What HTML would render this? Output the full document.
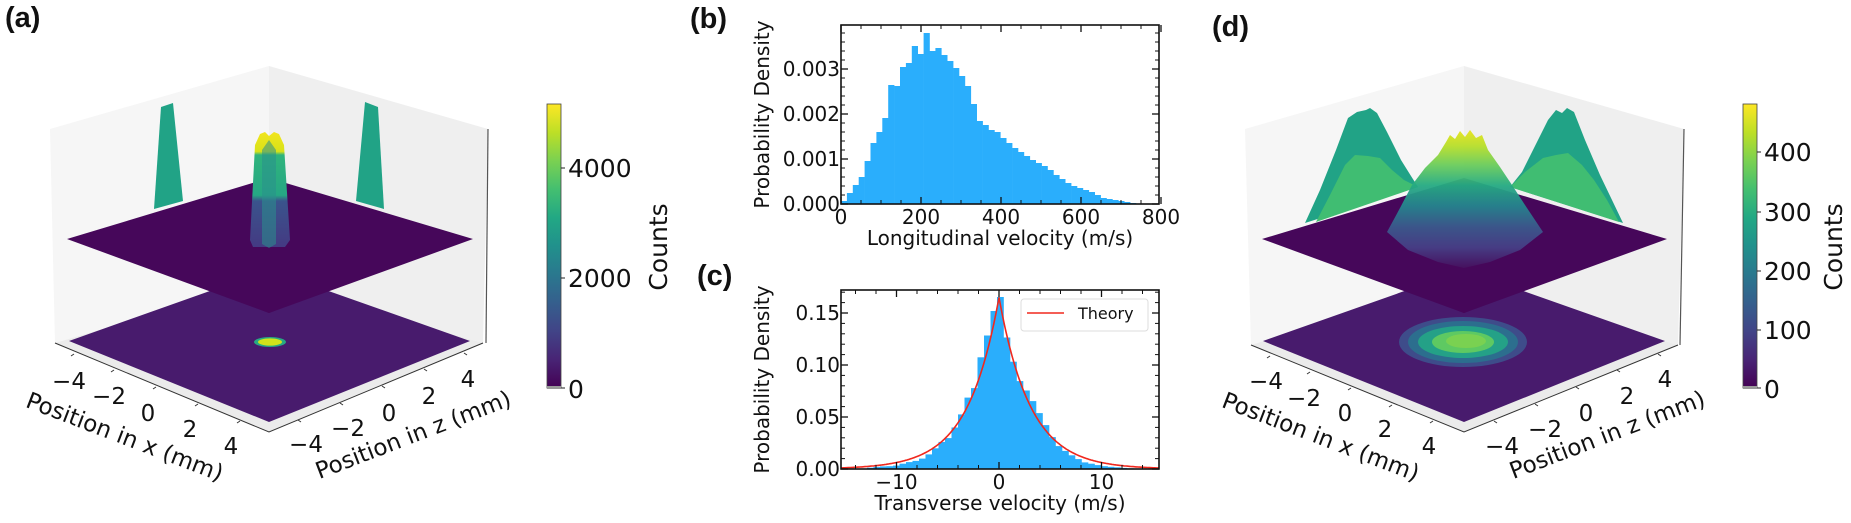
<!DOCTYPE html>
<html><head><meta charset="utf-8">
<style>
html,body{margin:0;padding:0;background:#fff;}
svg{display:block;}
text{font-family:"DejaVu Sans","Liberation Sans",sans-serif;fill:#111;}
.lbl{font-family:"Liberation Sans",sans-serif;font-weight:bold;font-size:29px;}
</style></head>
<body>
<svg id="s" width="1851" height="523" viewBox="0 0 1851 523" xmlns="http://www.w3.org/2000/svg">
<defs>
<linearGradient id="vir" x1="0" y1="1" x2="0" y2="0">
<stop offset="0" stop-color="#440154"/><stop offset="0.1" stop-color="#482475"/><stop offset="0.2" stop-color="#414487"/><stop offset="0.3" stop-color="#355f8d"/><stop offset="0.4" stop-color="#2a788e"/><stop offset="0.5" stop-color="#21918c"/><stop offset="0.6" stop-color="#22a884"/><stop offset="0.7" stop-color="#44bf70"/><stop offset="0.8" stop-color="#7ad151"/><stop offset="0.9" stop-color="#bddf26"/><stop offset="1" stop-color="#fde725"/>
</linearGradient>
<linearGradient id="spk" x1="0" y1="0" x2="0" y2="1">
<stop offset="0" stop-color="#f2e51d"/><stop offset="0.17" stop-color="#d8e219"/><stop offset="0.2" stop-color="#2fb47c"/><stop offset="0.55" stop-color="#26a784"/><stop offset="0.6" stop-color="#3a548c"/><stop offset="1" stop-color="#443a83"/>
</linearGradient>
<linearGradient id="mtn" x1="0" y1="0" x2="0" y2="1">
<stop offset="0" stop-color="#e7e41a"/><stop offset="0.12" stop-color="#b5de2b"/><stop offset="0.25" stop-color="#6ccd5a"/><stop offset="0.4" stop-color="#25ab82"/><stop offset="0.55" stop-color="#25858e"/><stop offset="0.7" stop-color="#3a5a8c"/><stop offset="0.85" stop-color="#463f86"/><stop offset="1" stop-color="#46115f"/>
</linearGradient>
</defs>

<!-- ============ PANEL A ============ -->
<text class="lbl" x="5" y="27">(a)</text>
<polygon points="50,129 269,66 269,280 55,343" fill="#f6f6f6"/>
<polygon points="269,66 488,129 483,343 269,280" fill="#efefef"/>
<line x1="488" y1="129" x2="486" y2="343" stroke="#555" stroke-width="1.2"/>
<polygon points="55,343 269,280 483,343 269,432" fill="#ebebeb"/>
<polyline points="55,343 269,432 483,343" fill="none" stroke="#333" stroke-width="1"/>
<polygon points="69,341 269,270 470,341 269,422" fill="#481b6d"/>
<polygon points="215,291 269,270 322,291 269,313" fill="#440154"/>
<!-- projections -->
<polygon points="161,107 173,103 183,201 154,209" fill="#21a386"/>
<polygon points="365,102 378,107 384,209 356,201" fill="#21a386"/>
<polygon points="67,239 269,178 473,239 269,313" fill="#46075a"/>
<polygon points="250,240 255,145 260,134 265,132 269,136 274,132 279,134 284,145 290,240 285,247 269,247 253,247" fill="url(#spk)"/>
<polygon points="262,150 269,140 276,150 276,244 269,248 262,244" fill="#2a8f8c" opacity="0.55"/>
<ellipse cx="270" cy="342" rx="16" ry="5" fill="#27a983"/>
<ellipse cx="270" cy="342" rx="12" ry="3.6" fill="#d2e21b"/>
<!-- ticks a -->
<g stroke="#333" stroke-width="1">
<line x1="74" y1="354" x2="71" y2="356"/><line x1="114" y1="370" x2="111" y2="372"/><line x1="156" y1="387" x2="153" y2="389"/><line x1="198" y1="404" x2="195" y2="406"/><line x1="240" y1="421" x2="237" y2="423"/>
<line x1="298" y1="420" x2="301" y2="422"/><line x1="340" y1="403" x2="343" y2="405"/><line x1="382" y1="386" x2="385" y2="388"/><line x1="424" y1="369" x2="427" y2="371"/><line x1="464" y1="353" x2="467" y2="355"/>
</g>
<g font-size="23" text-anchor="middle">
<text x="69" y="389">−4</text><text x="109" y="404">−2</text><text x="148" y="421">0</text><text x="190" y="437">2</text><text x="231" y="454">4</text>
<text x="306" y="452">−4</text><text x="348" y="436">−2</text><text x="389" y="421">0</text><text x="429" y="404">2</text><text x="468" y="387">4</text>
<text transform="translate(122,444) rotate(21)" font-size="23">Position in x (mm)</text>
<text transform="translate(416,442) rotate(-21)" font-size="23">Position in z (mm)</text>
</g>
<!-- colorbar a -->
<rect x="547" y="104" width="14" height="284" fill="url(#vir)" stroke="#444" stroke-width="0.8"/>
<rect x="547" y="386" width="14" height="3" fill="#999"/>
<g stroke="#222" stroke-width="1"><line x1="561" y1="168" x2="565" y2="168"/><line x1="561" y1="278" x2="565" y2="278"/><line x1="561" y1="388" x2="565" y2="388"/></g>
<g font-size="25"><text x="568" y="177">4000</text><text x="568" y="287">2000</text><text x="568" y="398">0</text></g>
<text transform="translate(667,247) rotate(-90)" font-size="25" text-anchor="middle">Counts</text>

<!-- ============ PANEL B / C ============ -->
<text class="lbl" x="690" y="28">(b)</text>
<text class="lbl" x="697" y="285">(c)</text>
<g id="hb"></g>
<g id="hc"></g>

<!-- ============ PANEL D ============ -->
<text class="lbl" x="1212" y="36">(d)</text>
<polygon points="1245,129 1464,66 1464,280 1251,345" fill="#f6f6f6"/>
<polygon points="1464,66 1684,129 1678,345 1464,280" fill="#efefef"/>
<line x1="1684" y1="129" x2="1680" y2="345" stroke="#555" stroke-width="1.2"/>
<polygon points="1251,345 1464,280 1678,345 1464,432" fill="#ebebeb"/>
<polyline points="1251,345 1464,432 1678,345" fill="none" stroke="#333" stroke-width="1"/>
<polygon points="1263,341 1464,270 1665,341 1464,422" fill="#481b6d"/>
<polygon points="1410,291 1464,270 1518,291 1464,313" fill="#440154"/>
<!-- projections d -->
<polygon points="1305,223 1320,190 1336,150 1348,118 1357,112 1366,110 1370,108 1377,113 1387,132 1401,160 1411,176 1418,187" fill="#21a386"/>
<polygon points="1316,222 1330,195 1345,165 1355,155 1368,156 1380,158 1392,170 1404,180 1418,187" fill="#40bd72"/>
<polygon points="1510,187 1522,172 1534,148 1548,120 1556,110 1562,113 1567,108 1574,112 1585,140 1600,175 1612,200 1623,223" fill="#21a386"/>
<polygon points="1510,187 1525,172 1543,158 1556,155 1568,153 1582,165 1594,180 1607,200 1619,222" fill="#40bd72"/>
<polygon points="1262,239 1464,178 1667,239 1464,313" fill="#46075a"/>
<polygon points="1387,232 1400,208 1412,185 1425,168 1438,155 1446,142 1450,135 1455,139 1460,131 1465,137 1470,130 1476,138 1482,135 1488,150 1500,167 1512,185 1525,205 1535,220 1543,232 1520,250 1490,262 1464,268 1438,262 1408,250" fill="url(#mtn)" opacity="0.95"/>
<ellipse cx="1463" cy="342" rx="64" ry="25" fill="#3e4c8a"/>
<ellipse cx="1463" cy="342" rx="55" ry="21" fill="#2c6e8e"/>
<ellipse cx="1463" cy="342" rx="45" ry="16" fill="#24a187"/>
<ellipse cx="1463" cy="342" rx="31" ry="11" fill="#5ec962"/>
<ellipse cx="1466" cy="341" rx="20" ry="7" fill="#7ad151"/>
<g stroke="#333" stroke-width="1">
<line x1="1270" y1="356" x2="1267" y2="358"/><line x1="1310" y1="372" x2="1307" y2="374"/><line x1="1351" y1="388" x2="1348" y2="390"/><line x1="1392" y1="405" x2="1389" y2="407"/><line x1="1433" y1="421" x2="1430" y2="423"/>
<line x1="1494" y1="421" x2="1497" y2="423"/><line x1="1535" y1="404" x2="1538" y2="406"/><line x1="1576" y1="387" x2="1579" y2="389"/><line x1="1617" y1="370" x2="1620" y2="372"/><line x1="1658" y1="354" x2="1661" y2="356"/>
</g>
<g font-size="23" text-anchor="middle">
<text x="1266" y="389">−4</text><text x="1304" y="406">−2</text><text x="1345" y="421">0</text><text x="1385" y="437">2</text><text x="1429" y="454">4</text>
<text x="1502" y="454">−4</text><text x="1545" y="437">−2</text><text x="1586" y="421">0</text><text x="1627" y="404">2</text><text x="1665" y="387">4</text>
<text transform="translate(1318,444) rotate(21)">Position in x (mm)</text>
<text transform="translate(1610,442) rotate(-21)">Position in z (mm)</text>
</g>
<rect x="1743" y="104" width="14" height="284" fill="url(#vir)" stroke="#444" stroke-width="0.8"/>
<rect x="1743" y="386" width="14" height="3" fill="#999"/>
<g stroke="#222" stroke-width="1"><line x1="1757" y1="152" x2="1761" y2="152"/><line x1="1757" y1="212" x2="1761" y2="212"/><line x1="1757" y1="271" x2="1761" y2="271"/><line x1="1757" y1="330" x2="1761" y2="330"/><line x1="1757" y1="388" x2="1761" y2="388"/></g>
<g font-size="25"><text x="1764" y="161">400</text><text x="1764" y="221">300</text><text x="1764" y="280">200</text><text x="1764" y="339">100</text><text x="1764" y="398">0</text></g>
<text transform="translate(1842,247) rotate(-90)" font-size="25" text-anchor="middle">Counts</text>
</svg>
<script>
(function(){
var L=841,R=1159;
function axes(top,bot,xt,xmin,yt,ymin,xl,yl){
  var s='';
  s+='<rect x="'+L+'" y="'+top+'" width="'+(R-L)+'" height="'+(bot-top)+'" fill="none" stroke="#111" stroke-width="1.6"/>';
  xmin.forEach(function(x){s+='<line x1="'+x+'" y1="'+bot+'" x2="'+x+'" y2="'+(bot-4)+'" stroke="#111"/><line x1="'+x+'" y1="'+top+'" x2="'+x+'" y2="'+(top+4)+'" stroke="#111"/>';});
  xt.forEach(function(t){s+='<line x1="'+t[0]+'" y1="'+bot+'" x2="'+t[0]+'" y2="'+(bot-7)+'" stroke="#111" stroke-width="1.3"/><line x1="'+t[0]+'" y1="'+top+'" x2="'+t[0]+'" y2="'+(top+7)+'" stroke="#111" stroke-width="1.3"/><text x="'+t[0]+'" y="'+(bot+20)+'" font-size="20" text-anchor="middle">'+t[1]+'</text>';});
  ymin.forEach(function(y){s+='<line x1="'+L+'" y1="'+y+'" x2="'+(L+4)+'" y2="'+y+'" stroke="#111"/><line x1="'+R+'" y1="'+y+'" x2="'+(R-4)+'" y2="'+y+'" stroke="#111"/>';});
  yt.forEach(function(t){s+='<line x1="'+L+'" y1="'+t[0]+'" x2="'+(L+7)+'" y2="'+t[0]+'" stroke="#111" stroke-width="1.3"/><line x1="'+R+'" y1="'+t[0]+'" x2="'+(R-7)+'" y2="'+t[0]+'" stroke="#111" stroke-width="1.3"/><text x="'+(L-1)+'" y="'+(t[0]+7)+'" font-size="20" text-anchor="end">'+t[1]+'</text>';});
  s+='<text x="1000" y="'+(bot+41)+'" font-size="20" text-anchor="middle">'+xl+'</text>';
  s+='<text transform="translate('+(L-72)+','+((top+bot)/2)+') rotate(-90)" font-size="20" text-anchor="middle">'+yl+'</text>';
  return s;
}
// panel b
var tb=[201,193,185,177,161,143,132,118,85,86,67,63,46,54,33,51,48,55,61,68,76,86,104,121,125,130,132,138,143,148,152,156,160,163,166,170,175,179,183,186,188,190,192,195,198,199,200,201,202,203,203.5];
var s='',w=5.9;
tb.forEach(function(t,i){var x=841+i*w;s+='<rect x="'+x.toFixed(1)+'" y="'+t+'" width="'+(w+0.3).toFixed(1)+'" height="'+(204-t)+'" fill="#2aaefc"/>';});
var xm=[],ym=[],xt=[],yt=[];
for(var v=0;v<=800;v+=50){var x=841+v*0.4;if(v%200==0)xt.push([x,v]);else xm.push(x);}
for(var k=0;k<=19;k++){var y=204-k*9;if(k%5==0)yt.push([y,(k/5*0.001).toFixed(3)]);else ym.push(y);}
s+=axes(25,204,xt,xm,yt,ym,'Longitudinal velocity (m/s)','Probability Density');
document.getElementById('hb').innerHTML=s;
// panel c
var P=[[860,469],[880,466.5],[895,466],[905,463],[920,460],[931,453],[940,443],[950,437],[961,415],[968,397],[975,387],[981,356],[988,333],[994,310],[1000,297],[1008,345],[1019,380],[1030,396],[1043,420],[1056,444],[1068,453],[1083,462],[1102,466],[1125,468],[1145,469]];
function f(x){for(var i=0;i<P.length-1;i++){if(x>=P[i][0]&&x<=P[i+1][0]){var a=(x-P[i][0])/(P[i+1][0]-P[i][0]);return P[i][1]+a*(P[i+1][1]-P[i][1]);}}return 469;}
s='';var wc=6.5;
for(var i=0;i<44;i++){var x0=860.5+i*wc,t=f(x0+wc/2);if(Math.abs(x0+wc/2-1000)<3)t=297;s+='<rect x="'+x0.toFixed(1)+'" y="'+t.toFixed(1)+'" width="'+(wc+0.3)+'" height="'+(469-t).toFixed(1)+'" fill="#2aaefc"/>';}
var pts=[];for(var x=L;x<=R;x+=1){var vv=(x-999)/10.25;var p=0.165*Math.exp(-Math.abs(vv)/3.05);pts.push(x+','+(469-p*1040).toFixed(1));}
s+='<polyline points="'+pts.join(' ')+'" fill="none" stroke="#f0281e" stroke-width="1.6"/>';
xm=[];ym=[];xt=[];yt=[];
for(var v=-14;v<=14;v+=2){var x=999+v*10.25;if(v%10==0)xt.push([x,v<0?'−'+(-v):v]);else xm.push(x);}
for(var k=0;k<=17;k++){var y=469-k*10.4;if(k%5==0)yt.push([y,(k/5*0.05).toFixed(2)]);else ym.push(y);}
s+=axes(290,469,xt,xm,yt,ym,'Transverse velocity (m/s)','Probability Density');
s+='<rect x="1021" y="299" width="127" height="32" rx="3" fill="#fff" fill-opacity="0.85" stroke="#ddd"/><line x1="1027" y1="313" x2="1064" y2="313" stroke="#f0281e" stroke-width="1.6"/><text x="1078" y="319" font-size="16">Theory</text>';
document.getElementById('hc').innerHTML=s;
})();
</script>
</body></html>
